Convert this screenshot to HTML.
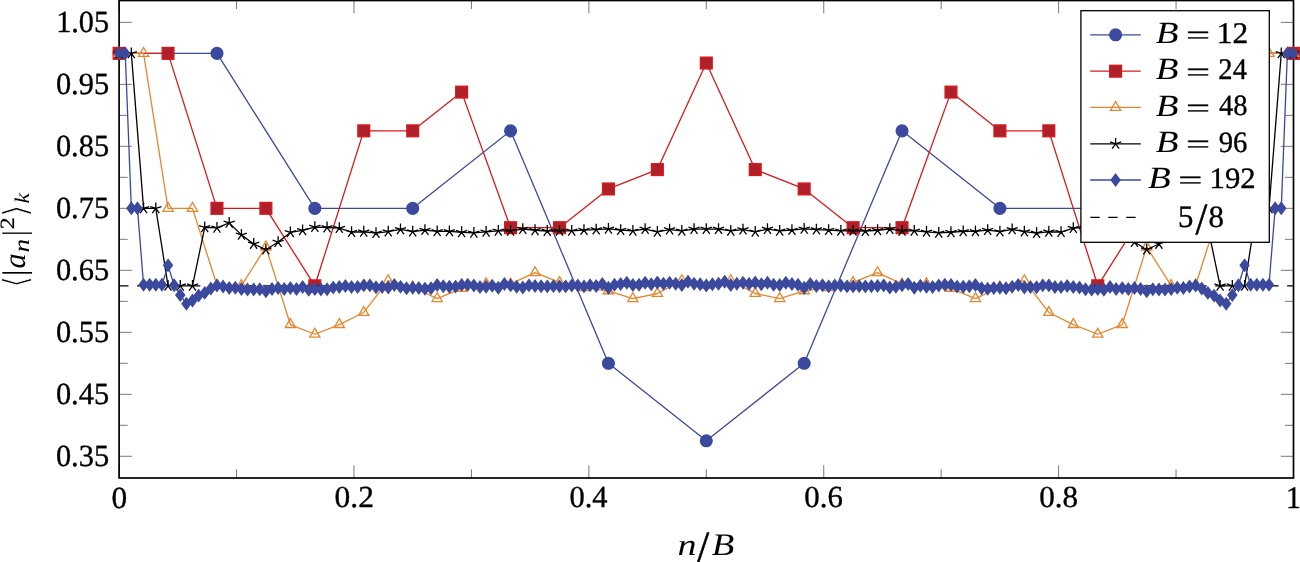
<!DOCTYPE html><html><head><meta charset="utf-8"><title>plot</title><style>
html,body{margin:0;padding:0;background:#fff;width:1300px;height:562px;overflow:hidden}
svg{display:block}
text{font-family:"Liberation Serif","DejaVu Serif",serif;fill:#000;stroke:#000;stroke-width:0.35px;text-rendering:geometricPrecision}
.it{font-style:italic}
.ns{stroke-width:0}
text.thin{stroke:#fff;stroke-width:0.9px}
</style></head><body>
<svg width="1300" height="562" viewBox="0 0 1300 562">
<g stroke="#6a6a6a" stroke-width="0.9"><line x1="119.10" y1="478.0" x2="119.10" y2="465.3"/><line x1="119.10" y1="0.5" x2="119.10" y2="13.2"/><line x1="236.54" y1="478.0" x2="236.54" y2="469.4"/><line x1="236.54" y1="0.5" x2="236.54" y2="9.1"/><line x1="353.98" y1="478.0" x2="353.98" y2="465.3"/><line x1="353.98" y1="0.5" x2="353.98" y2="13.2"/><line x1="471.42" y1="478.0" x2="471.42" y2="469.4"/><line x1="471.42" y1="0.5" x2="471.42" y2="9.1"/><line x1="588.86" y1="478.0" x2="588.86" y2="465.3"/><line x1="588.86" y1="0.5" x2="588.86" y2="13.2"/><line x1="706.30" y1="478.0" x2="706.30" y2="469.4"/><line x1="706.30" y1="0.5" x2="706.30" y2="9.1"/><line x1="823.74" y1="478.0" x2="823.74" y2="465.3"/><line x1="823.74" y1="0.5" x2="823.74" y2="13.2"/><line x1="941.18" y1="478.0" x2="941.18" y2="469.4"/><line x1="941.18" y1="0.5" x2="941.18" y2="9.1"/><line x1="1058.62" y1="478.0" x2="1058.62" y2="465.3"/><line x1="1058.62" y1="0.5" x2="1058.62" y2="13.2"/><line x1="1176.06" y1="478.0" x2="1176.06" y2="469.4"/><line x1="1176.06" y1="0.5" x2="1176.06" y2="9.1"/><line x1="1293.50" y1="478.0" x2="1293.50" y2="465.3"/><line x1="1293.50" y1="0.5" x2="1293.50" y2="13.2"/><line x1="119.1" y1="456.29" x2="131.79999999999998" y2="456.29"/><line x1="1293.5" y1="456.29" x2="1280.8" y2="456.29"/><line x1="119.1" y1="425.30" x2="127.69999999999999" y2="425.30"/><line x1="1293.5" y1="425.30" x2="1284.9" y2="425.30"/><line x1="119.1" y1="394.30" x2="131.79999999999998" y2="394.30"/><line x1="1293.5" y1="394.30" x2="1280.8" y2="394.30"/><line x1="119.1" y1="363.31" x2="127.69999999999999" y2="363.31"/><line x1="1293.5" y1="363.31" x2="1284.9" y2="363.31"/><line x1="119.1" y1="332.31" x2="131.79999999999998" y2="332.31"/><line x1="1293.5" y1="332.31" x2="1280.8" y2="332.31"/><line x1="119.1" y1="301.32" x2="127.69999999999999" y2="301.32"/><line x1="1293.5" y1="301.32" x2="1284.9" y2="301.32"/><line x1="119.1" y1="270.32" x2="131.79999999999998" y2="270.32"/><line x1="1293.5" y1="270.32" x2="1280.8" y2="270.32"/><line x1="119.1" y1="239.33" x2="127.69999999999999" y2="239.33"/><line x1="1293.5" y1="239.33" x2="1284.9" y2="239.33"/><line x1="119.1" y1="208.33" x2="131.79999999999998" y2="208.33"/><line x1="1293.5" y1="208.33" x2="1280.8" y2="208.33"/><line x1="119.1" y1="177.33" x2="127.69999999999999" y2="177.33"/><line x1="1293.5" y1="177.33" x2="1284.9" y2="177.33"/><line x1="119.1" y1="146.34" x2="131.79999999999998" y2="146.34"/><line x1="1293.5" y1="146.34" x2="1280.8" y2="146.34"/><line x1="119.1" y1="115.35" x2="127.69999999999999" y2="115.35"/><line x1="1293.5" y1="115.35" x2="1284.9" y2="115.35"/><line x1="119.1" y1="84.35" x2="131.79999999999998" y2="84.35"/><line x1="1293.5" y1="84.35" x2="1280.8" y2="84.35"/><line x1="119.1" y1="53.36" x2="127.69999999999999" y2="53.36"/><line x1="1293.5" y1="53.36" x2="1284.9" y2="53.36"/><line x1="119.1" y1="22.36" x2="131.79999999999998" y2="22.36"/><line x1="1293.5" y1="22.36" x2="1280.8" y2="22.36"/></g>
<rect x="119.1" y="0.5" width="1174.40" height="477.50" fill="none" stroke="#000" stroke-width="1.7"/>
<text transform="matrix(1.0132,0,0,1.0257,55.89,466.15)" font-size="30" fill="#000"><tspan font-family='"Liberation Serif", serif' font-style="normal">0.35</tspan></text><text transform="matrix(1.0132,0,0,1.0257,55.89,404.16)" font-size="30" fill="#000"><tspan font-family='"Liberation Serif", serif' font-style="normal">0.45</tspan></text><text transform="matrix(1.0132,0,0,1.0257,55.89,342.17)" font-size="30" fill="#000"><tspan font-family='"Liberation Serif", serif' font-style="normal">0.55</tspan></text><text transform="matrix(1.0132,0,0,1.0257,55.89,280.18)" font-size="30" fill="#000"><tspan font-family='"Liberation Serif", serif' font-style="normal">0.65</tspan></text><text transform="matrix(1.0132,0,0,1.0257,55.89,218.19)" font-size="30" fill="#000"><tspan font-family='"Liberation Serif", serif' font-style="normal">0.75</tspan></text><text transform="matrix(1.0132,0,0,1.0257,55.89,156.20)" font-size="30" fill="#000"><tspan font-family='"Liberation Serif", serif' font-style="normal">0.85</tspan></text><text transform="matrix(1.0132,0,0,1.0257,55.89,94.21)" font-size="30" fill="#000"><tspan font-family='"Liberation Serif", serif' font-style="normal">0.95</tspan></text><text transform="matrix(1.0084,0,0,1.0257,56.14,32.22)" font-size="30" fill="#000"><tspan font-family='"Liberation Serif", serif' font-style="normal">1.05</tspan></text><text transform="matrix(1.0460,0,0,1.0275,111.50,507.60)" font-size="30" fill="#000"><tspan font-family='"Liberation Serif", serif' font-style="normal">0</tspan></text><text transform="matrix(1.0489,0,0,1.0208,334.58,507.47)" font-size="30" fill="#000"><tspan font-family='"Liberation Serif", serif' font-style="normal">0.2</tspan></text><text transform="matrix(1.0142,0,0,1.0208,569.50,507.47)" font-size="30" fill="#000"><tspan font-family='"Liberation Serif", serif' font-style="normal">0.4</tspan></text><text transform="matrix(1.0264,0,0,1.0208,804.37,507.47)" font-size="30" fill="#000"><tspan font-family='"Liberation Serif", serif' font-style="normal">0.6</tspan></text><text transform="matrix(1.0337,0,0,1.0208,1039.24,507.47)" font-size="30" fill="#000"><tspan font-family='"Liberation Serif", serif' font-style="normal">0.8</tspan></text><text transform="matrix(0.9942,0,0,1.0503,1285.88,507.90)" font-size="30" fill="#000"><tspan font-family='"Liberation Serif", serif' font-style="normal">1</tspan></text>
<text transform="matrix(1.2692,0,0,1.0045,677.54,555.00)" font-size="30" fill="#000"><tspan font-family='"Liberation Serif", serif' font-style="italic" class="ns">n</tspan></text>
<text transform="matrix(1.4637,0,0,1.4949,697.00,561.76)" font-size="30" fill="#000"><tspan font-family='"Liberation Serif", serif' font-style="normal">/</tspan></text>
<text transform="matrix(1.2308,0,0,1.0491,711.76,554.71)" font-size="30" fill="#000"><tspan font-family='"Liberation Serif", serif' font-style="italic" class="ns">B</tspan></text>
<g transform="rotate(-90)"><text transform="matrix(1.0119,0,0,1.1153,-287.71,27.29)" font-size="30" fill="#000" class="thin"><tspan font-family='"DejaVu Serif", serif' font-style="normal">⟨</tspan></text><text transform="matrix(1.1378,0,0,1.0920,-276.27,24.63)" font-size="30" fill="#000"><tspan font-family='"Liberation Serif", serif' font-style="normal" class="ns">|</tspan></text><text transform="matrix(1.0017,0,0,1.0327,-268.60,25.18)" font-size="30" fill="#000"><tspan font-family='"Liberation Serif", serif' font-style="italic" class="ns">a</tspan></text><text transform="matrix(0.9144,0,0,0.7428,-252.38,28.80)" font-size="30" fill="#000"><tspan font-family='"Liberation Serif", serif' font-style="italic" class="ns">n</tspan></text><text transform="matrix(0.9370,0,0,1.0920,-236.11,24.63)" font-size="30" fill="#000"><tspan font-family='"Liberation Serif", serif' font-style="normal" class="ns">|</tspan></text><text transform="matrix(0.7982,0,0,0.6746,-229.35,14.40)" font-size="30" fill="#000"><tspan font-family='"Liberation Serif", serif' font-style="normal">2</tspan></text><text transform="matrix(1.0874,0,0,1.1153,-216.91,27.29)" font-size="30" fill="#000" class="thin"><tspan font-family='"DejaVu Serif", serif' font-style="normal">⟩</tspan></text><text transform="matrix(0.7835,0,0,0.6918,-203.48,28.80)" font-size="30" fill="#000"><tspan font-family='"Liberation Serif", serif' font-style="italic" class="ns">k</tspan></text></g>
<svg x="0" y="0" width="1300" height="562" overflow="visible">
<polyline points="119.10,53.36 216.97,53.36 314.83,208.33 412.70,208.33 510.57,130.84 608.43,363.31 706.30,440.79 804.17,363.31 902.03,130.84 999.90,208.33 1097.77,208.33 1195.63,53.36 1293.50,53.36" fill="none" stroke="#3b499e" stroke-width="1.3" stroke-linejoin="round"/><g fill="#3b499e" stroke="#3b499e" stroke-width="1.3"><circle cx="119.10" cy="53.36" r="5.9"/><circle cx="216.97" cy="53.36" r="5.9"/><circle cx="314.83" cy="208.33" r="5.9"/><circle cx="412.70" cy="208.33" r="5.9"/><circle cx="510.57" cy="130.84" r="5.9"/><circle cx="608.43" cy="363.31" r="5.9"/><circle cx="706.30" cy="440.79" r="5.9"/><circle cx="804.17" cy="363.31" r="5.9"/><circle cx="902.03" cy="130.84" r="5.9"/><circle cx="999.90" cy="208.33" r="5.9"/><circle cx="1097.77" cy="208.33" r="5.9"/><circle cx="1195.63" cy="53.36" r="5.9"/><circle cx="1293.50" cy="53.36" r="5.9"/></g>
<polyline points="119.10,53.36 168.03,53.36 216.97,208.33 265.90,208.33 314.83,285.82 363.77,130.84 412.70,130.84 461.63,92.10 510.57,227.70 559.50,227.70 608.43,188.96 657.37,169.59 706.30,63.04 755.23,169.59 804.17,188.96 853.10,227.70 902.03,227.70 950.97,92.10 999.90,130.84 1048.83,130.84 1097.77,285.82 1146.70,208.33 1195.63,208.33 1244.57,53.36 1293.50,53.36" fill="none" stroke="#d7191c" stroke-width="1.3" stroke-linejoin="round"/><g fill="#b0202a" stroke="#d7191c" stroke-width="1.3"><rect x="113.20" y="47.46" width="11.8" height="11.8"/><rect x="162.13" y="47.46" width="11.8" height="11.8"/><rect x="211.07" y="202.43" width="11.8" height="11.8"/><rect x="260.00" y="202.43" width="11.8" height="11.8"/><rect x="308.93" y="279.92" width="11.8" height="11.8"/><rect x="357.87" y="124.94" width="11.8" height="11.8"/><rect x="406.80" y="124.94" width="11.8" height="11.8"/><rect x="455.73" y="86.20" width="11.8" height="11.8"/><rect x="504.67" y="221.80" width="11.8" height="11.8"/><rect x="553.60" y="221.80" width="11.8" height="11.8"/><rect x="602.53" y="183.06" width="11.8" height="11.8"/><rect x="651.47" y="163.69" width="11.8" height="11.8"/><rect x="700.40" y="57.14" width="11.8" height="11.8"/><rect x="749.33" y="163.69" width="11.8" height="11.8"/><rect x="798.27" y="183.06" width="11.8" height="11.8"/><rect x="847.20" y="221.80" width="11.8" height="11.8"/><rect x="896.13" y="221.80" width="11.8" height="11.8"/><rect x="945.07" y="86.20" width="11.8" height="11.8"/><rect x="994.00" y="124.94" width="11.8" height="11.8"/><rect x="1042.93" y="124.94" width="11.8" height="11.8"/><rect x="1091.87" y="279.92" width="11.8" height="11.8"/><rect x="1140.80" y="202.43" width="11.8" height="11.8"/><rect x="1189.73" y="202.43" width="11.8" height="11.8"/><rect x="1238.67" y="47.46" width="11.8" height="11.8"/><rect x="1287.60" y="47.46" width="11.8" height="11.8"/></g>
<polyline points="119.10,53.36 143.57,53.36 168.03,208.33 192.50,208.33 216.97,285.20 241.43,285.57 265.90,247.07 290.37,324.56 314.83,334.25 339.30,324.56 363.77,312.47 388.23,280.67 412.70,287.00 437.17,298.59 461.63,288.30 486.10,283.71 510.57,283.96 535.03,272.61 559.50,282.47 583.97,287.68 608.43,290.78 632.90,298.59 657.37,293.50 681.83,280.67 706.30,285.38 730.77,280.67 755.23,293.50 779.70,298.59 804.17,290.78 828.63,287.68 853.10,282.47 877.57,272.61 902.03,283.96 926.50,283.71 950.97,288.30 975.43,298.59 999.90,287.00 1024.37,280.67 1048.83,312.47 1073.30,324.56 1097.77,334.25 1122.23,324.56 1146.70,247.07 1171.17,285.57 1195.63,285.20 1220.10,208.33 1244.57,208.33 1269.03,53.36 1293.50,53.36" fill="none" stroke="#e6862c" stroke-width="1.3" stroke-linejoin="round"/><g fill="none" stroke="#e6862c" stroke-width="1.3"><path d="M119.10,47.46L124.21,56.31L113.99,56.31Z"/><path d="M143.57,47.46L148.68,56.31L138.46,56.31Z"/><path d="M168.03,202.43L173.14,211.28L162.92,211.28Z"/><path d="M192.50,202.43L197.61,211.28L187.39,211.28Z"/><path d="M216.97,279.30L222.08,288.15L211.86,288.15Z"/><path d="M241.43,279.67L246.54,288.52L236.32,288.52Z"/><path d="M265.90,241.17L271.01,250.02L260.79,250.02Z"/><path d="M290.37,318.66L295.48,327.51L285.26,327.51Z"/><path d="M314.83,328.35L319.94,337.20L309.72,337.20Z"/><path d="M339.30,318.66L344.41,327.51L334.19,327.51Z"/><path d="M363.77,306.57L368.88,315.42L358.66,315.42Z"/><path d="M388.23,274.77L393.34,283.62L383.12,283.62Z"/><path d="M412.70,281.10L417.81,289.95L407.59,289.95Z"/><path d="M437.17,292.69L442.28,301.54L432.06,301.54Z"/><path d="M461.63,282.40L466.74,291.25L456.52,291.25Z"/><path d="M486.10,277.81L491.21,286.66L480.99,286.66Z"/><path d="M510.57,278.06L515.68,286.91L505.46,286.91Z"/><path d="M535.03,266.71L540.14,275.56L529.92,275.56Z"/><path d="M559.50,276.57L564.61,285.42L554.39,285.42Z"/><path d="M583.97,281.78L589.08,290.63L578.86,290.63Z"/><path d="M608.43,284.88L613.54,293.73L603.32,293.73Z"/><path d="M632.90,292.69L638.01,301.54L627.79,301.54Z"/><path d="M657.37,287.60L662.48,296.45L652.26,296.45Z"/><path d="M681.83,274.77L686.94,283.62L676.72,283.62Z"/><path d="M706.30,279.48L711.41,288.33L701.19,288.33Z"/><path d="M730.77,274.77L735.88,283.62L725.66,283.62Z"/><path d="M755.23,287.60L760.34,296.45L750.12,296.45Z"/><path d="M779.70,292.69L784.81,301.54L774.59,301.54Z"/><path d="M804.17,284.88L809.28,293.73L799.06,293.73Z"/><path d="M828.63,281.78L833.74,290.63L823.52,290.63Z"/><path d="M853.10,276.57L858.21,285.42L847.99,285.42Z"/><path d="M877.57,266.71L882.68,275.56L872.46,275.56Z"/><path d="M902.03,278.06L907.14,286.91L896.92,286.91Z"/><path d="M926.50,277.81L931.61,286.66L921.39,286.66Z"/><path d="M950.97,282.40L956.08,291.25L945.86,291.25Z"/><path d="M975.43,292.69L980.54,301.54L970.32,301.54Z"/><path d="M999.90,281.10L1005.01,289.95L994.79,289.95Z"/><path d="M1024.37,274.77L1029.48,283.62L1019.26,283.62Z"/><path d="M1048.83,306.57L1053.94,315.42L1043.72,315.42Z"/><path d="M1073.30,318.66L1078.41,327.51L1068.19,327.51Z"/><path d="M1097.77,328.35L1102.88,337.20L1092.66,337.20Z"/><path d="M1122.23,318.66L1127.34,327.51L1117.12,327.51Z"/><path d="M1146.70,241.17L1151.81,250.02L1141.59,250.02Z"/><path d="M1171.17,279.67L1176.28,288.52L1166.06,288.52Z"/><path d="M1195.63,279.30L1200.74,288.15L1190.52,288.15Z"/><path d="M1220.10,202.43L1225.21,211.28L1214.99,211.28Z"/><path d="M1244.57,202.43L1249.68,211.28L1239.46,211.28Z"/><path d="M1269.03,47.46L1274.14,56.31L1263.92,56.31Z"/><path d="M1293.50,47.46L1298.61,56.31L1288.39,56.31Z"/></g>
<polyline points="119.10,53.36 131.33,53.36 143.57,208.33 155.80,208.33 168.03,285.82 180.27,285.82 192.50,285.82 204.73,227.36 216.97,227.86 229.20,222.96 241.43,234.86 253.67,243.97 265.90,249.68 278.13,242.05 290.37,232.44 302.60,230.40 314.83,227.05 327.07,227.48 339.30,228.17 351.53,232.20 363.77,231.76 376.00,233.06 388.23,231.64 400.47,229.41 412.70,231.64 424.93,230.15 437.17,231.45 449.40,231.45 461.63,232.26 473.87,232.94 486.10,231.89 498.33,230.96 510.57,230.83 522.80,229.16 535.03,230.27 547.27,231.02 559.50,230.83 571.73,230.83 583.97,230.15 596.20,229.53 608.43,228.85 620.67,230.15 632.90,230.83 645.13,229.03 657.37,231.89 669.60,229.53 681.83,230.83 694.07,229.03 706.30,229.03 718.53,229.03 730.77,230.83 743.00,229.53 755.23,231.89 767.47,229.03 779.70,230.83 791.93,230.15 804.17,228.85 816.40,229.53 828.63,230.15 840.87,230.83 853.10,230.83 865.33,231.02 877.57,230.27 889.80,229.16 902.03,230.83 914.27,230.96 926.50,231.89 938.73,232.94 950.97,232.26 963.20,231.45 975.43,231.45 987.67,230.15 999.90,231.64 1012.13,229.41 1024.37,231.64 1036.60,233.06 1048.83,231.76 1061.07,232.20 1073.30,228.17 1085.53,227.48 1097.77,227.05 1110.00,230.40 1122.23,232.44 1134.47,242.05 1146.70,249.68 1158.93,243.97 1171.17,234.86 1183.40,222.96 1195.63,227.86 1207.87,227.36 1220.10,285.82 1232.33,285.82 1244.57,285.82 1256.80,208.33 1269.03,208.33 1281.27,53.36 1293.50,53.36" fill="none" stroke="#000" stroke-width="1.3" stroke-linejoin="round"/><g fill="none" stroke="#000" stroke-width="1.3"><path d="M119.10,53.36L119.10,47.46M119.10,53.36L113.49,51.53M119.10,53.36L115.63,58.13M119.10,53.36L122.57,58.13M119.10,53.36L124.71,51.53"/><path d="M131.33,53.36L131.33,47.46M131.33,53.36L125.72,51.53M131.33,53.36L127.87,58.13M131.33,53.36L134.80,58.13M131.33,53.36L136.94,51.53"/><path d="M143.57,208.33L143.57,202.43M143.57,208.33L137.96,206.51M143.57,208.33L140.10,213.10M143.57,208.33L147.03,213.10M143.57,208.33L149.18,206.51"/><path d="M155.80,208.33L155.80,202.43M155.80,208.33L150.19,206.51M155.80,208.33L152.33,213.10M155.80,208.33L159.27,213.10M155.80,208.33L161.41,206.51"/><path d="M168.03,285.82L168.03,279.92M168.03,285.82L162.42,283.99M168.03,285.82L164.57,290.59M168.03,285.82L171.50,290.59M168.03,285.82L173.64,283.99"/><path d="M180.27,285.82L180.27,279.92M180.27,285.82L174.66,283.99M180.27,285.82L176.80,290.59M180.27,285.82L183.73,290.59M180.27,285.82L185.88,283.99"/><path d="M192.50,285.82L192.50,279.92M192.50,285.82L186.89,283.99M192.50,285.82L189.03,290.59M192.50,285.82L195.97,290.59M192.50,285.82L198.11,283.99"/><path d="M204.73,227.36L204.73,221.46M204.73,227.36L199.12,225.54M204.73,227.36L201.27,232.13M204.73,227.36L208.20,232.13M204.73,227.36L210.34,225.54"/><path d="M216.97,227.86L216.97,221.96M216.97,227.86L211.36,226.03M216.97,227.86L213.50,232.63M216.97,227.86L220.43,232.63M216.97,227.86L222.58,226.03"/><path d="M229.20,222.96L229.20,217.06M229.20,222.96L223.59,221.14M229.20,222.96L225.73,227.73M229.20,222.96L232.67,227.73M229.20,222.96L234.81,221.14"/><path d="M241.43,234.86L241.43,228.96M241.43,234.86L235.82,233.04M241.43,234.86L237.97,239.63M241.43,234.86L244.90,239.63M241.43,234.86L247.04,233.04"/><path d="M253.67,243.97L253.67,238.07M253.67,243.97L248.06,242.15M253.67,243.97L250.20,248.75M253.67,243.97L257.13,248.75M253.67,243.97L259.28,242.15"/><path d="M265.90,249.68L265.90,243.78M265.90,249.68L260.29,247.85M265.90,249.68L262.43,254.45M265.90,249.68L269.37,254.45M265.90,249.68L271.51,247.85"/><path d="M278.13,242.05L278.13,236.15M278.13,242.05L272.52,240.23M278.13,242.05L274.67,246.83M278.13,242.05L281.60,246.83M278.13,242.05L283.74,240.23"/><path d="M290.37,232.44L290.37,226.54M290.37,232.44L284.76,230.62M290.37,232.44L286.90,237.22M290.37,232.44L293.83,237.22M290.37,232.44L295.98,230.62"/><path d="M302.60,230.40L302.60,224.50M302.60,230.40L296.99,228.58M302.60,230.40L299.13,235.17M302.60,230.40L306.07,235.17M302.60,230.40L308.21,228.58"/><path d="M314.83,227.05L314.83,221.15M314.83,227.05L309.22,225.23M314.83,227.05L311.37,231.82M314.83,227.05L318.30,231.82M314.83,227.05L320.44,225.23"/><path d="M327.07,227.48L327.07,221.58M327.07,227.48L321.46,225.66M327.07,227.48L323.60,232.26M327.07,227.48L330.53,232.26M327.07,227.48L332.68,225.66"/><path d="M339.30,228.17L339.30,222.27M339.30,228.17L333.69,226.34M339.30,228.17L335.83,232.94M339.30,228.17L342.77,232.94M339.30,228.17L344.91,226.34"/><path d="M351.53,232.20L351.53,226.30M351.53,232.20L345.92,230.37M351.53,232.20L348.07,236.97M351.53,232.20L355.00,236.97M351.53,232.20L357.14,230.37"/><path d="M363.77,231.76L363.77,225.86M363.77,231.76L358.16,229.94M363.77,231.76L360.30,236.54M363.77,231.76L367.23,236.54M363.77,231.76L369.38,229.94"/><path d="M376.00,233.06L376.00,227.16M376.00,233.06L370.39,231.24M376.00,233.06L372.53,237.84M376.00,233.06L379.47,237.84M376.00,233.06L381.61,231.24"/><path d="M388.23,231.64L388.23,225.74M388.23,231.64L382.62,229.82M388.23,231.64L384.77,236.41M388.23,231.64L391.70,236.41M388.23,231.64L393.84,229.82"/><path d="M400.47,229.41L400.47,223.51M400.47,229.41L394.86,227.58M400.47,229.41L397.00,234.18M400.47,229.41L403.93,234.18M400.47,229.41L406.08,227.58"/><path d="M412.70,231.64L412.70,225.74M412.70,231.64L407.09,229.82M412.70,231.64L409.23,236.41M412.70,231.64L416.17,236.41M412.70,231.64L418.31,229.82"/><path d="M424.93,230.15L424.93,224.25M424.93,230.15L419.32,228.33M424.93,230.15L421.47,234.92M424.93,230.15L428.40,234.92M424.93,230.15L430.54,228.33"/><path d="M437.17,231.45L437.17,225.55M437.17,231.45L431.56,229.63M437.17,231.45L433.70,236.23M437.17,231.45L440.63,236.23M437.17,231.45L442.78,229.63"/><path d="M449.40,231.45L449.40,225.55M449.40,231.45L443.79,229.63M449.40,231.45L445.93,236.23M449.40,231.45L452.87,236.23M449.40,231.45L455.01,229.63"/><path d="M461.63,232.26L461.63,226.36M461.63,232.26L456.02,230.43M461.63,232.26L458.17,237.03M461.63,232.26L465.10,237.03M461.63,232.26L467.24,230.43"/><path d="M473.87,232.94L473.87,227.04M473.87,232.94L468.26,231.12M473.87,232.94L470.40,237.71M473.87,232.94L477.33,237.71M473.87,232.94L479.48,231.12"/><path d="M486.10,231.89L486.10,225.99M486.10,231.89L480.49,230.06M486.10,231.89L482.63,236.66M486.10,231.89L489.57,236.66M486.10,231.89L491.71,230.06"/><path d="M498.33,230.96L498.33,225.06M498.33,230.96L492.72,229.13M498.33,230.96L494.87,235.73M498.33,230.96L501.80,235.73M498.33,230.96L503.94,229.13"/><path d="M510.57,230.83L510.57,224.93M510.57,230.83L504.96,229.01M510.57,230.83L507.10,235.61M510.57,230.83L514.03,235.61M510.57,230.83L516.18,229.01"/><path d="M522.80,229.16L522.80,223.26M522.80,229.16L517.19,227.34M522.80,229.16L519.33,233.93M522.80,229.16L526.27,233.93M522.80,229.16L528.41,227.34"/><path d="M535.03,230.27L535.03,224.37M535.03,230.27L529.42,228.45M535.03,230.27L531.57,235.05M535.03,230.27L538.50,235.05M535.03,230.27L540.64,228.45"/><path d="M547.27,231.02L547.27,225.12M547.27,231.02L541.66,229.20M547.27,231.02L543.80,235.79M547.27,231.02L550.73,235.79M547.27,231.02L552.88,229.20"/><path d="M559.50,230.83L559.50,224.93M559.50,230.83L553.89,229.01M559.50,230.83L556.03,235.61M559.50,230.83L562.97,235.61M559.50,230.83L565.11,229.01"/><path d="M571.73,230.83L571.73,224.93M571.73,230.83L566.12,229.01M571.73,230.83L568.27,235.61M571.73,230.83L575.20,235.61M571.73,230.83L577.34,229.01"/><path d="M583.97,230.15L583.97,224.25M583.97,230.15L578.36,228.33M583.97,230.15L580.50,234.92M583.97,230.15L587.43,234.92M583.97,230.15L589.58,228.33"/><path d="M596.20,229.53L596.20,223.63M596.20,229.53L590.59,227.71M596.20,229.53L592.73,234.30M596.20,229.53L599.67,234.30M596.20,229.53L601.81,227.71"/><path d="M608.43,228.85L608.43,222.95M608.43,228.85L602.82,227.03M608.43,228.85L604.97,233.62M608.43,228.85L611.90,233.62M608.43,228.85L614.04,227.03"/><path d="M620.67,230.15L620.67,224.25M620.67,230.15L615.06,228.33M620.67,230.15L617.20,234.92M620.67,230.15L624.13,234.92M620.67,230.15L626.28,228.33"/><path d="M632.90,230.83L632.90,224.93M632.90,230.83L627.29,229.01M632.90,230.83L629.43,235.61M632.90,230.83L636.37,235.61M632.90,230.83L638.51,229.01"/><path d="M645.13,229.03L645.13,223.13M645.13,229.03L639.52,227.21M645.13,229.03L641.67,233.81M645.13,229.03L648.60,233.81M645.13,229.03L650.74,227.21"/><path d="M657.37,231.89L657.37,225.99M657.37,231.89L651.76,230.06M657.37,231.89L653.90,236.66M657.37,231.89L660.83,236.66M657.37,231.89L662.98,230.06"/><path d="M669.60,229.53L669.60,223.63M669.60,229.53L663.99,227.71M669.60,229.53L666.13,234.30M669.60,229.53L673.07,234.30M669.60,229.53L675.21,227.71"/><path d="M681.83,230.83L681.83,224.93M681.83,230.83L676.22,229.01M681.83,230.83L678.37,235.61M681.83,230.83L685.30,235.61M681.83,230.83L687.44,229.01"/><path d="M694.07,229.03L694.07,223.13M694.07,229.03L688.46,227.21M694.07,229.03L690.60,233.81M694.07,229.03L697.53,233.81M694.07,229.03L699.68,227.21"/><path d="M706.30,229.03L706.30,223.13M706.30,229.03L700.69,227.21M706.30,229.03L702.83,233.81M706.30,229.03L709.77,233.81M706.30,229.03L711.91,227.21"/><path d="M718.53,229.03L718.53,223.13M718.53,229.03L712.92,227.21M718.53,229.03L715.07,233.81M718.53,229.03L722.00,233.81M718.53,229.03L724.14,227.21"/><path d="M730.77,230.83L730.77,224.93M730.77,230.83L725.16,229.01M730.77,230.83L727.30,235.61M730.77,230.83L734.23,235.61M730.77,230.83L736.38,229.01"/><path d="M743.00,229.53L743.00,223.63M743.00,229.53L737.39,227.71M743.00,229.53L739.53,234.30M743.00,229.53L746.47,234.30M743.00,229.53L748.61,227.71"/><path d="M755.23,231.89L755.23,225.99M755.23,231.89L749.62,230.06M755.23,231.89L751.77,236.66M755.23,231.89L758.70,236.66M755.23,231.89L760.84,230.06"/><path d="M767.47,229.03L767.47,223.13M767.47,229.03L761.86,227.21M767.47,229.03L764.00,233.81M767.47,229.03L770.93,233.81M767.47,229.03L773.08,227.21"/><path d="M779.70,230.83L779.70,224.93M779.70,230.83L774.09,229.01M779.70,230.83L776.23,235.61M779.70,230.83L783.17,235.61M779.70,230.83L785.31,229.01"/><path d="M791.93,230.15L791.93,224.25M791.93,230.15L786.32,228.33M791.93,230.15L788.47,234.92M791.93,230.15L795.40,234.92M791.93,230.15L797.54,228.33"/><path d="M804.17,228.85L804.17,222.95M804.17,228.85L798.56,227.03M804.17,228.85L800.70,233.62M804.17,228.85L807.63,233.62M804.17,228.85L809.78,227.03"/><path d="M816.40,229.53L816.40,223.63M816.40,229.53L810.79,227.71M816.40,229.53L812.93,234.30M816.40,229.53L819.87,234.30M816.40,229.53L822.01,227.71"/><path d="M828.63,230.15L828.63,224.25M828.63,230.15L823.02,228.33M828.63,230.15L825.17,234.92M828.63,230.15L832.10,234.92M828.63,230.15L834.24,228.33"/><path d="M840.87,230.83L840.87,224.93M840.87,230.83L835.26,229.01M840.87,230.83L837.40,235.61M840.87,230.83L844.33,235.61M840.87,230.83L846.48,229.01"/><path d="M853.10,230.83L853.10,224.93M853.10,230.83L847.49,229.01M853.10,230.83L849.63,235.61M853.10,230.83L856.57,235.61M853.10,230.83L858.71,229.01"/><path d="M865.33,231.02L865.33,225.12M865.33,231.02L859.72,229.20M865.33,231.02L861.87,235.79M865.33,231.02L868.80,235.79M865.33,231.02L870.94,229.20"/><path d="M877.57,230.27L877.57,224.37M877.57,230.27L871.96,228.45M877.57,230.27L874.10,235.05M877.57,230.27L881.03,235.05M877.57,230.27L883.18,228.45"/><path d="M889.80,229.16L889.80,223.26M889.80,229.16L884.19,227.34M889.80,229.16L886.33,233.93M889.80,229.16L893.27,233.93M889.80,229.16L895.41,227.34"/><path d="M902.03,230.83L902.03,224.93M902.03,230.83L896.42,229.01M902.03,230.83L898.57,235.61M902.03,230.83L905.50,235.61M902.03,230.83L907.64,229.01"/><path d="M914.27,230.96L914.27,225.06M914.27,230.96L908.66,229.13M914.27,230.96L910.80,235.73M914.27,230.96L917.73,235.73M914.27,230.96L919.88,229.13"/><path d="M926.50,231.89L926.50,225.99M926.50,231.89L920.89,230.06M926.50,231.89L923.03,236.66M926.50,231.89L929.97,236.66M926.50,231.89L932.11,230.06"/><path d="M938.73,232.94L938.73,227.04M938.73,232.94L933.12,231.12M938.73,232.94L935.27,237.71M938.73,232.94L942.20,237.71M938.73,232.94L944.34,231.12"/><path d="M950.97,232.26L950.97,226.36M950.97,232.26L945.36,230.43M950.97,232.26L947.50,237.03M950.97,232.26L954.43,237.03M950.97,232.26L956.58,230.43"/><path d="M963.20,231.45L963.20,225.55M963.20,231.45L957.59,229.63M963.20,231.45L959.73,236.23M963.20,231.45L966.67,236.23M963.20,231.45L968.81,229.63"/><path d="M975.43,231.45L975.43,225.55M975.43,231.45L969.82,229.63M975.43,231.45L971.97,236.23M975.43,231.45L978.90,236.23M975.43,231.45L981.04,229.63"/><path d="M987.67,230.15L987.67,224.25M987.67,230.15L982.06,228.33M987.67,230.15L984.20,234.92M987.67,230.15L991.13,234.92M987.67,230.15L993.28,228.33"/><path d="M999.90,231.64L999.90,225.74M999.90,231.64L994.29,229.82M999.90,231.64L996.43,236.41M999.90,231.64L1003.37,236.41M999.90,231.64L1005.51,229.82"/><path d="M1012.13,229.41L1012.13,223.51M1012.13,229.41L1006.52,227.58M1012.13,229.41L1008.67,234.18M1012.13,229.41L1015.60,234.18M1012.13,229.41L1017.74,227.58"/><path d="M1024.37,231.64L1024.37,225.74M1024.37,231.64L1018.76,229.82M1024.37,231.64L1020.90,236.41M1024.37,231.64L1027.83,236.41M1024.37,231.64L1029.98,229.82"/><path d="M1036.60,233.06L1036.60,227.16M1036.60,233.06L1030.99,231.24M1036.60,233.06L1033.13,237.84M1036.60,233.06L1040.07,237.84M1036.60,233.06L1042.21,231.24"/><path d="M1048.83,231.76L1048.83,225.86M1048.83,231.76L1043.22,229.94M1048.83,231.76L1045.37,236.54M1048.83,231.76L1052.30,236.54M1048.83,231.76L1054.44,229.94"/><path d="M1061.07,232.20L1061.07,226.30M1061.07,232.20L1055.46,230.37M1061.07,232.20L1057.60,236.97M1061.07,232.20L1064.53,236.97M1061.07,232.20L1066.68,230.37"/><path d="M1073.30,228.17L1073.30,222.27M1073.30,228.17L1067.69,226.34M1073.30,228.17L1069.83,232.94M1073.30,228.17L1076.77,232.94M1073.30,228.17L1078.91,226.34"/><path d="M1085.53,227.48L1085.53,221.58M1085.53,227.48L1079.92,225.66M1085.53,227.48L1082.07,232.26M1085.53,227.48L1089.00,232.26M1085.53,227.48L1091.14,225.66"/><path d="M1097.77,227.05L1097.77,221.15M1097.77,227.05L1092.16,225.23M1097.77,227.05L1094.30,231.82M1097.77,227.05L1101.23,231.82M1097.77,227.05L1103.38,225.23"/><path d="M1110.00,230.40L1110.00,224.50M1110.00,230.40L1104.39,228.58M1110.00,230.40L1106.53,235.17M1110.00,230.40L1113.47,235.17M1110.00,230.40L1115.61,228.58"/><path d="M1122.23,232.44L1122.23,226.54M1122.23,232.44L1116.62,230.62M1122.23,232.44L1118.77,237.22M1122.23,232.44L1125.70,237.22M1122.23,232.44L1127.84,230.62"/><path d="M1134.47,242.05L1134.47,236.15M1134.47,242.05L1128.86,240.23M1134.47,242.05L1131.00,246.83M1134.47,242.05L1137.93,246.83M1134.47,242.05L1140.08,240.23"/><path d="M1146.70,249.68L1146.70,243.78M1146.70,249.68L1141.09,247.85M1146.70,249.68L1143.23,254.45M1146.70,249.68L1150.17,254.45M1146.70,249.68L1152.31,247.85"/><path d="M1158.93,243.97L1158.93,238.07M1158.93,243.97L1153.32,242.15M1158.93,243.97L1155.47,248.75M1158.93,243.97L1162.40,248.75M1158.93,243.97L1164.54,242.15"/><path d="M1171.17,234.86L1171.17,228.96M1171.17,234.86L1165.56,233.04M1171.17,234.86L1167.70,239.63M1171.17,234.86L1174.63,239.63M1171.17,234.86L1176.78,233.04"/><path d="M1183.40,222.96L1183.40,217.06M1183.40,222.96L1177.79,221.14M1183.40,222.96L1179.93,227.73M1183.40,222.96L1186.87,227.73M1183.40,222.96L1189.01,221.14"/><path d="M1195.63,227.86L1195.63,221.96M1195.63,227.86L1190.02,226.03M1195.63,227.86L1192.17,232.63M1195.63,227.86L1199.10,232.63M1195.63,227.86L1201.24,226.03"/><path d="M1207.87,227.36L1207.87,221.46M1207.87,227.36L1202.26,225.54M1207.87,227.36L1204.40,232.13M1207.87,227.36L1211.33,232.13M1207.87,227.36L1213.48,225.54"/><path d="M1220.10,285.82L1220.10,279.92M1220.10,285.82L1214.49,283.99M1220.10,285.82L1216.63,290.59M1220.10,285.82L1223.57,290.59M1220.10,285.82L1225.71,283.99"/><path d="M1232.33,285.82L1232.33,279.92M1232.33,285.82L1226.72,283.99M1232.33,285.82L1228.87,290.59M1232.33,285.82L1235.80,290.59M1232.33,285.82L1237.94,283.99"/><path d="M1244.57,285.82L1244.57,279.92M1244.57,285.82L1238.96,283.99M1244.57,285.82L1241.10,290.59M1244.57,285.82L1248.03,290.59M1244.57,285.82L1250.18,283.99"/><path d="M1256.80,208.33L1256.80,202.43M1256.80,208.33L1251.19,206.51M1256.80,208.33L1253.33,213.10M1256.80,208.33L1260.27,213.10M1256.80,208.33L1262.41,206.51"/><path d="M1269.03,208.33L1269.03,202.43M1269.03,208.33L1263.42,206.51M1269.03,208.33L1265.57,213.10M1269.03,208.33L1272.50,213.10M1269.03,208.33L1274.64,206.51"/><path d="M1281.27,53.36L1281.27,47.46M1281.27,53.36L1275.66,51.53M1281.27,53.36L1277.80,58.13M1281.27,53.36L1284.73,58.13M1281.27,53.36L1286.88,51.53"/><path d="M1293.50,53.36L1293.50,47.46M1293.50,53.36L1287.89,51.53M1293.50,53.36L1290.03,58.13M1293.50,53.36L1296.97,58.13M1293.50,53.36L1299.11,51.53"/></g>
<line x1="119.1" y1="285.82" x2="1293.5" y2="285.82" stroke="#000" stroke-width="1.3" stroke-dasharray="9.4 8.57"/>
<polyline points="119.10,53.36 125.22,53.36 131.33,208.33 137.45,208.33 143.57,284.83 149.68,284.83 155.80,284.83 161.92,284.83 168.03,265.36 174.15,285.20 180.27,295.12 186.38,303.67 192.50,300.57 198.62,295.61 204.73,292.88 210.85,288.42 216.97,285.51 223.08,286.44 229.20,287.93 235.32,287.80 241.43,288.92 247.55,289.54 253.67,289.41 259.78,289.35 265.90,291.27 272.02,288.98 278.13,287.99 284.25,288.92 290.37,288.11 296.48,288.92 302.60,286.93 308.72,289.66 314.83,288.98 320.95,289.41 327.07,289.29 333.18,287.62 339.30,286.93 345.42,286.00 351.53,286.93 357.65,286.93 363.77,285.38 369.88,285.38 376.00,287.18 382.12,286.93 388.23,287.55 394.35,284.95 400.47,286.87 406.58,288.24 412.70,287.80 418.82,287.99 424.93,288.67 431.05,288.30 437.17,284.95 443.28,286.19 449.40,286.69 455.52,286.62 461.63,284.89 467.75,284.83 473.87,285.57 479.98,287.06 486.10,286.81 492.22,285.76 498.33,287.80 504.45,283.96 510.57,285.38 516.68,286.69 522.80,287.55 528.92,285.38 535.03,285.94 541.15,286.19 547.27,286.38 553.38,286.13 559.50,286.38 565.62,286.38 571.73,285.57 577.85,285.57 583.97,286.38 590.08,285.20 596.20,286.00 602.32,283.96 608.43,287.68 614.55,284.76 620.67,283.96 626.78,282.78 632.90,285.01 639.02,284.70 645.13,282.78 651.25,284.21 657.37,282.47 663.48,283.77 669.60,282.78 675.72,283.77 681.83,285.01 687.95,281.66 694.07,283.77 700.18,284.27 706.30,285.57 712.42,284.27 718.53,283.77 724.65,281.66 730.77,285.01 736.88,283.77 743.00,282.78 749.12,283.77 755.23,282.47 761.35,284.21 767.47,282.78 773.58,284.70 779.70,285.01 785.82,282.78 791.93,283.96 798.05,284.76 804.17,287.68 810.28,283.96 816.40,286.00 822.52,285.20 828.63,286.38 834.75,285.57 840.87,285.57 846.98,286.38 853.10,286.38 859.22,286.13 865.33,286.38 871.45,286.19 877.57,285.94 883.68,285.38 889.80,287.55 895.92,286.69 902.03,285.38 908.15,283.96 914.27,287.80 920.38,285.76 926.50,286.81 932.62,287.06 938.73,285.57 944.85,284.83 950.97,284.89 957.08,286.62 963.20,286.69 969.32,286.19 975.43,284.95 981.55,288.30 987.67,288.67 993.78,287.99 999.90,287.80 1006.02,288.24 1012.13,286.87 1018.25,284.95 1024.37,287.55 1030.48,286.93 1036.60,287.18 1042.72,285.38 1048.83,285.38 1054.95,286.93 1061.07,286.93 1067.18,286.00 1073.30,286.93 1079.42,287.62 1085.53,289.29 1091.65,289.41 1097.77,288.98 1103.88,289.66 1110.00,286.93 1116.12,288.92 1122.23,288.11 1128.35,288.92 1134.47,287.99 1140.58,288.98 1146.70,291.27 1152.82,289.35 1158.93,289.41 1165.05,289.54 1171.17,288.92 1177.28,287.80 1183.40,287.93 1189.52,286.44 1195.63,285.51 1201.75,288.42 1207.87,292.88 1213.98,295.61 1220.10,300.57 1226.22,303.67 1232.33,295.12 1238.45,285.20 1244.57,265.36 1250.68,284.83 1256.80,284.83 1262.92,284.83 1269.03,284.83 1275.15,208.33 1281.27,208.33 1287.38,53.36 1293.50,53.36" fill="none" stroke="#3b499e" stroke-width="1.3" stroke-linejoin="round"/><g fill="#3b499e" stroke="#3b499e" stroke-width="1.3"><path d="M119.10,47.46L123.52,53.36L119.10,59.26L114.67,53.36Z"/><path d="M125.22,47.46L129.64,53.36L125.22,59.26L120.79,53.36Z"/><path d="M131.33,202.43L135.76,208.33L131.33,214.23L126.91,208.33Z"/><path d="M137.45,202.43L141.88,208.33L137.45,214.23L133.02,208.33Z"/><path d="M143.57,278.93L147.99,284.83L143.57,290.73L139.14,284.83Z"/><path d="M149.68,278.93L154.11,284.83L149.68,290.73L145.26,284.83Z"/><path d="M155.80,278.93L160.23,284.83L155.80,290.73L151.38,284.83Z"/><path d="M161.92,278.93L166.34,284.83L161.92,290.73L157.49,284.83Z"/><path d="M168.03,259.46L172.46,265.36L168.03,271.26L163.61,265.36Z"/><path d="M174.15,279.30L178.58,285.20L174.15,291.10L169.72,285.20Z"/><path d="M180.27,289.22L184.69,295.12L180.27,301.02L175.84,295.12Z"/><path d="M186.38,297.77L190.81,303.67L186.38,309.57L181.96,303.67Z"/><path d="M192.50,294.67L196.93,300.57L192.50,306.47L188.07,300.57Z"/><path d="M198.62,289.71L203.04,295.61L198.62,301.51L194.19,295.61Z"/><path d="M204.73,286.98L209.16,292.88L204.73,298.78L200.31,292.88Z"/><path d="M210.85,282.52L215.28,288.42L210.85,294.32L206.42,288.42Z"/><path d="M216.97,279.61L221.39,285.51L216.97,291.41L212.54,285.51Z"/><path d="M223.08,280.54L227.51,286.44L223.08,292.34L218.66,286.44Z"/><path d="M229.20,282.03L233.62,287.93L229.20,293.83L224.77,287.93Z"/><path d="M235.32,281.90L239.74,287.80L235.32,293.70L230.89,287.80Z"/><path d="M241.43,283.02L245.86,288.92L241.43,294.82L237.01,288.92Z"/><path d="M247.55,283.64L251.98,289.54L247.55,295.44L243.12,289.54Z"/><path d="M253.67,283.51L258.09,289.41L253.67,295.31L249.24,289.41Z"/><path d="M259.78,283.45L264.21,289.35L259.78,295.25L255.36,289.35Z"/><path d="M265.90,285.37L270.32,291.27L265.90,297.17L261.47,291.27Z"/><path d="M272.02,283.08L276.44,288.98L272.02,294.88L267.59,288.98Z"/><path d="M278.13,282.09L282.56,287.99L278.13,293.89L273.71,287.99Z"/><path d="M284.25,283.02L288.68,288.92L284.25,294.82L279.82,288.92Z"/><path d="M290.37,282.21L294.79,288.11L290.37,294.01L285.94,288.11Z"/><path d="M296.48,283.02L300.91,288.92L296.48,294.82L292.06,288.92Z"/><path d="M302.60,281.03L307.03,286.93L302.60,292.83L298.18,286.93Z"/><path d="M308.72,283.76L313.14,289.66L308.72,295.56L304.29,289.66Z"/><path d="M314.83,283.08L319.26,288.98L314.83,294.88L310.41,288.98Z"/><path d="M320.95,283.51L325.38,289.41L320.95,295.31L316.53,289.41Z"/><path d="M327.07,283.39L331.49,289.29L327.07,295.19L322.64,289.29Z"/><path d="M333.18,281.72L337.61,287.62L333.18,293.52L328.76,287.62Z"/><path d="M339.30,281.03L343.73,286.93L339.30,292.83L334.88,286.93Z"/><path d="M345.42,280.10L349.84,286.00L345.42,291.90L340.99,286.00Z"/><path d="M351.53,281.03L355.96,286.93L351.53,292.83L347.11,286.93Z"/><path d="M357.65,281.03L362.07,286.93L357.65,292.83L353.22,286.93Z"/><path d="M363.77,279.48L368.19,285.38L363.77,291.28L359.34,285.38Z"/><path d="M369.88,279.48L374.31,285.38L369.88,291.28L365.46,285.38Z"/><path d="M376.00,281.28L380.43,287.18L376.00,293.08L371.57,287.18Z"/><path d="M382.12,281.03L386.54,286.93L382.12,292.83L377.69,286.93Z"/><path d="M388.23,281.65L392.66,287.55L388.23,293.45L383.81,287.55Z"/><path d="M394.35,279.05L398.78,284.95L394.35,290.85L389.93,284.95Z"/><path d="M400.47,280.97L404.89,286.87L400.47,292.77L396.04,286.87Z"/><path d="M406.58,282.34L411.01,288.24L406.58,294.14L402.16,288.24Z"/><path d="M412.70,281.90L417.13,287.80L412.70,293.70L408.28,287.80Z"/><path d="M418.82,282.09L423.24,287.99L418.82,293.89L414.39,287.99Z"/><path d="M424.93,282.77L429.36,288.67L424.93,294.57L420.51,288.67Z"/><path d="M431.05,282.40L435.48,288.30L431.05,294.20L426.63,288.30Z"/><path d="M437.17,279.05L441.59,284.95L437.17,290.85L432.74,284.95Z"/><path d="M443.28,280.29L447.71,286.19L443.28,292.09L438.86,286.19Z"/><path d="M449.40,280.79L453.82,286.69L449.40,292.59L444.97,286.69Z"/><path d="M455.52,280.72L459.94,286.62L455.52,292.52L451.09,286.62Z"/><path d="M461.63,278.99L466.06,284.89L461.63,290.79L457.21,284.89Z"/><path d="M467.75,278.93L472.18,284.83L467.75,290.73L463.32,284.83Z"/><path d="M473.87,279.67L478.29,285.57L473.87,291.47L469.44,285.57Z"/><path d="M479.98,281.16L484.41,287.06L479.98,292.96L475.56,287.06Z"/><path d="M486.10,280.91L490.53,286.81L486.10,292.71L481.68,286.81Z"/><path d="M492.22,279.86L496.64,285.76L492.22,291.66L487.79,285.76Z"/><path d="M498.33,281.90L502.76,287.80L498.33,293.70L493.91,287.80Z"/><path d="M504.45,278.06L508.88,283.96L504.45,289.86L500.03,283.96Z"/><path d="M510.57,279.48L514.99,285.38L510.57,291.28L506.14,285.38Z"/><path d="M516.68,280.79L521.11,286.69L516.68,292.59L512.26,286.69Z"/><path d="M522.80,281.65L527.23,287.55L522.80,293.45L518.38,287.55Z"/><path d="M528.92,279.48L533.34,285.38L528.92,291.28L524.49,285.38Z"/><path d="M535.03,280.04L539.46,285.94L535.03,291.84L530.61,285.94Z"/><path d="M541.15,280.29L545.57,286.19L541.15,292.09L536.73,286.19Z"/><path d="M547.27,280.48L551.69,286.38L547.27,292.28L542.84,286.38Z"/><path d="M553.38,280.23L557.81,286.13L553.38,292.03L548.96,286.13Z"/><path d="M559.50,280.48L563.92,286.38L559.50,292.28L555.08,286.38Z"/><path d="M565.62,280.48L570.04,286.38L565.62,292.28L561.19,286.38Z"/><path d="M571.73,279.67L576.16,285.57L571.73,291.47L567.31,285.57Z"/><path d="M577.85,279.67L582.27,285.57L577.85,291.47L573.43,285.57Z"/><path d="M583.97,280.48L588.39,286.38L583.97,292.28L579.54,286.38Z"/><path d="M590.08,279.30L594.51,285.20L590.08,291.10L585.66,285.20Z"/><path d="M596.20,280.10L600.62,286.00L596.20,291.90L591.78,286.00Z"/><path d="M602.32,278.06L606.74,283.96L602.32,289.86L597.89,283.96Z"/><path d="M608.43,281.78L612.86,287.68L608.43,293.58L604.01,287.68Z"/><path d="M614.55,278.86L618.98,284.76L614.55,290.66L610.13,284.76Z"/><path d="M620.67,278.06L625.09,283.96L620.67,289.86L616.24,283.96Z"/><path d="M626.78,276.88L631.21,282.78L626.78,288.68L622.36,282.78Z"/><path d="M632.90,279.11L637.33,285.01L632.90,290.91L628.48,285.01Z"/><path d="M639.02,278.80L643.44,284.70L639.02,290.60L634.59,284.70Z"/><path d="M645.13,276.88L649.56,282.78L645.13,288.68L640.71,282.78Z"/><path d="M651.25,278.31L655.68,284.21L651.25,290.11L646.83,284.21Z"/><path d="M657.37,276.57L661.79,282.47L657.37,288.37L652.94,282.47Z"/><path d="M663.48,277.87L667.91,283.77L663.48,289.67L659.06,283.77Z"/><path d="M669.60,276.88L674.02,282.78L669.60,288.68L665.18,282.78Z"/><path d="M675.72,277.87L680.14,283.77L675.72,289.67L671.29,283.77Z"/><path d="M681.83,279.11L686.26,285.01L681.83,290.91L677.41,285.01Z"/><path d="M687.95,275.76L692.38,281.66L687.95,287.56L683.53,281.66Z"/><path d="M694.07,277.87L698.49,283.77L694.07,289.67L689.64,283.77Z"/><path d="M700.18,278.37L704.61,284.27L700.18,290.17L695.76,284.27Z"/><path d="M706.30,279.67L710.73,285.57L706.30,291.47L701.88,285.57Z"/><path d="M712.42,278.37L716.84,284.27L712.42,290.17L707.99,284.27Z"/><path d="M718.53,277.87L722.96,283.77L718.53,289.67L714.11,283.77Z"/><path d="M724.65,275.76L729.08,281.66L724.65,287.56L720.23,281.66Z"/><path d="M730.77,279.11L735.19,285.01L730.77,290.91L726.34,285.01Z"/><path d="M736.88,277.87L741.31,283.77L736.88,289.67L732.46,283.77Z"/><path d="M743.00,276.88L747.43,282.78L743.00,288.68L738.58,282.78Z"/><path d="M749.12,277.87L753.54,283.77L749.12,289.67L744.69,283.77Z"/><path d="M755.23,276.57L759.66,282.47L755.23,288.37L750.81,282.47Z"/><path d="M761.35,278.31L765.77,284.21L761.35,290.11L756.93,284.21Z"/><path d="M767.47,276.88L771.89,282.78L767.47,288.68L763.04,282.78Z"/><path d="M773.58,278.80L778.01,284.70L773.58,290.60L769.16,284.70Z"/><path d="M779.70,279.11L784.12,285.01L779.70,290.91L775.28,285.01Z"/><path d="M785.82,276.88L790.24,282.78L785.82,288.68L781.39,282.78Z"/><path d="M791.93,278.06L796.36,283.96L791.93,289.86L787.51,283.96Z"/><path d="M798.05,278.86L802.48,284.76L798.05,290.66L793.63,284.76Z"/><path d="M804.17,281.78L808.59,287.68L804.17,293.58L799.74,287.68Z"/><path d="M810.28,278.06L814.71,283.96L810.28,289.86L805.86,283.96Z"/><path d="M816.40,280.10L820.83,286.00L816.40,291.90L811.98,286.00Z"/><path d="M822.52,279.30L826.94,285.20L822.52,291.10L818.09,285.20Z"/><path d="M828.63,280.48L833.06,286.38L828.63,292.28L824.21,286.38Z"/><path d="M834.75,279.67L839.18,285.57L834.75,291.47L830.33,285.57Z"/><path d="M840.87,279.67L845.29,285.57L840.87,291.47L836.44,285.57Z"/><path d="M846.98,280.48L851.41,286.38L846.98,292.28L842.56,286.38Z"/><path d="M853.10,280.48L857.52,286.38L853.10,292.28L848.68,286.38Z"/><path d="M859.22,280.23L863.64,286.13L859.22,292.03L854.79,286.13Z"/><path d="M865.33,280.48L869.76,286.38L865.33,292.28L860.91,286.38Z"/><path d="M871.45,280.29L875.88,286.19L871.45,292.09L867.03,286.19Z"/><path d="M877.57,280.04L881.99,285.94L877.57,291.84L873.14,285.94Z"/><path d="M883.68,279.48L888.11,285.38L883.68,291.28L879.26,285.38Z"/><path d="M889.80,281.65L894.23,287.55L889.80,293.45L885.38,287.55Z"/><path d="M895.92,280.79L900.34,286.69L895.92,292.59L891.49,286.69Z"/><path d="M902.03,279.48L906.46,285.38L902.03,291.28L897.61,285.38Z"/><path d="M908.15,278.06L912.58,283.96L908.15,289.86L903.73,283.96Z"/><path d="M914.27,281.90L918.69,287.80L914.27,293.70L909.84,287.80Z"/><path d="M920.38,279.86L924.81,285.76L920.38,291.66L915.96,285.76Z"/><path d="M926.50,280.91L930.93,286.81L926.50,292.71L922.08,286.81Z"/><path d="M932.62,281.16L937.04,287.06L932.62,292.96L928.19,287.06Z"/><path d="M938.73,279.67L943.16,285.57L938.73,291.47L934.31,285.57Z"/><path d="M944.85,278.93L949.28,284.83L944.85,290.73L940.43,284.83Z"/><path d="M950.97,278.99L955.39,284.89L950.97,290.79L946.54,284.89Z"/><path d="M957.08,280.72L961.51,286.62L957.08,292.52L952.66,286.62Z"/><path d="M963.20,280.79L967.62,286.69L963.20,292.59L958.78,286.69Z"/><path d="M969.32,280.29L973.74,286.19L969.32,292.09L964.89,286.19Z"/><path d="M975.43,279.05L979.86,284.95L975.43,290.85L971.01,284.95Z"/><path d="M981.55,282.40L985.98,288.30L981.55,294.20L977.13,288.30Z"/><path d="M987.67,282.77L992.09,288.67L987.67,294.57L983.24,288.67Z"/><path d="M993.78,282.09L998.21,287.99L993.78,293.89L989.36,287.99Z"/><path d="M999.90,281.90L1004.33,287.80L999.90,293.70L995.48,287.80Z"/><path d="M1006.02,282.34L1010.44,288.24L1006.02,294.14L1001.59,288.24Z"/><path d="M1012.13,280.97L1016.56,286.87L1012.13,292.77L1007.71,286.87Z"/><path d="M1018.25,279.05L1022.68,284.95L1018.25,290.85L1013.83,284.95Z"/><path d="M1024.37,281.65L1028.79,287.55L1024.37,293.45L1019.94,287.55Z"/><path d="M1030.48,281.03L1034.91,286.93L1030.48,292.83L1026.06,286.93Z"/><path d="M1036.60,281.28L1041.03,287.18L1036.60,293.08L1032.18,287.18Z"/><path d="M1042.72,279.48L1047.14,285.38L1042.72,291.28L1038.29,285.38Z"/><path d="M1048.83,279.48L1053.26,285.38L1048.83,291.28L1044.41,285.38Z"/><path d="M1054.95,281.03L1059.38,286.93L1054.95,292.83L1050.53,286.93Z"/><path d="M1061.07,281.03L1065.49,286.93L1061.07,292.83L1056.64,286.93Z"/><path d="M1067.18,280.10L1071.61,286.00L1067.18,291.90L1062.76,286.00Z"/><path d="M1073.30,281.03L1077.72,286.93L1073.30,292.83L1068.88,286.93Z"/><path d="M1079.42,281.72L1083.84,287.62L1079.42,293.52L1074.99,287.62Z"/><path d="M1085.53,283.39L1089.96,289.29L1085.53,295.19L1081.11,289.29Z"/><path d="M1091.65,283.51L1096.08,289.41L1091.65,295.31L1087.23,289.41Z"/><path d="M1097.77,283.08L1102.19,288.98L1097.77,294.88L1093.34,288.98Z"/><path d="M1103.88,283.76L1108.31,289.66L1103.88,295.56L1099.46,289.66Z"/><path d="M1110.00,281.03L1114.42,286.93L1110.00,292.83L1105.58,286.93Z"/><path d="M1116.12,283.02L1120.54,288.92L1116.12,294.82L1111.69,288.92Z"/><path d="M1122.23,282.21L1126.66,288.11L1122.23,294.01L1117.81,288.11Z"/><path d="M1128.35,283.02L1132.78,288.92L1128.35,294.82L1123.93,288.92Z"/><path d="M1134.47,282.09L1138.89,287.99L1134.47,293.89L1130.04,287.99Z"/><path d="M1140.58,283.08L1145.01,288.98L1140.58,294.88L1136.16,288.98Z"/><path d="M1146.70,285.37L1151.12,291.27L1146.70,297.17L1142.28,291.27Z"/><path d="M1152.82,283.45L1157.24,289.35L1152.82,295.25L1148.39,289.35Z"/><path d="M1158.93,283.51L1163.36,289.41L1158.93,295.31L1154.51,289.41Z"/><path d="M1165.05,283.64L1169.47,289.54L1165.05,295.44L1160.62,289.54Z"/><path d="M1171.17,283.02L1175.59,288.92L1171.17,294.82L1166.74,288.92Z"/><path d="M1177.28,281.90L1181.71,287.80L1177.28,293.70L1172.86,287.80Z"/><path d="M1183.40,282.03L1187.83,287.93L1183.40,293.83L1178.98,287.93Z"/><path d="M1189.52,280.54L1193.94,286.44L1189.52,292.34L1185.09,286.44Z"/><path d="M1195.63,279.61L1200.06,285.51L1195.63,291.41L1191.21,285.51Z"/><path d="M1201.75,282.52L1206.17,288.42L1201.75,294.32L1197.33,288.42Z"/><path d="M1207.87,286.98L1212.29,292.88L1207.87,298.78L1203.44,292.88Z"/><path d="M1213.98,289.71L1218.41,295.61L1213.98,301.51L1209.56,295.61Z"/><path d="M1220.10,294.67L1224.52,300.57L1220.10,306.47L1215.67,300.57Z"/><path d="M1226.22,297.77L1230.64,303.67L1226.22,309.57L1221.79,303.67Z"/><path d="M1232.33,289.22L1236.76,295.12L1232.33,301.02L1227.91,295.12Z"/><path d="M1238.45,279.30L1242.88,285.20L1238.45,291.10L1234.03,285.20Z"/><path d="M1244.57,259.46L1248.99,265.36L1244.57,271.26L1240.14,265.36Z"/><path d="M1250.68,278.93L1255.11,284.83L1250.68,290.73L1246.26,284.83Z"/><path d="M1256.80,278.93L1261.22,284.83L1256.80,290.73L1252.38,284.83Z"/><path d="M1262.92,278.93L1267.34,284.83L1262.92,290.73L1258.49,284.83Z"/><path d="M1269.03,278.93L1273.46,284.83L1269.03,290.73L1264.61,284.83Z"/><path d="M1275.15,202.43L1279.58,208.33L1275.15,214.23L1270.73,208.33Z"/><path d="M1281.27,202.43L1285.69,208.33L1281.27,214.23L1276.84,208.33Z"/><path d="M1287.38,47.46L1291.81,53.36L1287.38,59.26L1282.96,53.36Z"/><path d="M1293.50,47.46L1297.92,53.36L1293.50,59.26L1289.08,53.36Z"/></g>
</svg>
<rect x="1080.9" y="10.7" width="188.40" height="231.60" fill="#fff" stroke="#000" stroke-width="1.3"/>
<line x1="1090.3" y1="34.80" x2="1140.8" y2="34.80" stroke="#3b499e" stroke-width="1.3"/>
<g fill="#3b499e" stroke="#3b499e" stroke-width="1.3"><circle cx="1115.60" cy="34.80" r="5.9"/></g>
<text transform="matrix(1.2423,0,0,1.0288,1155.65,42.91)" font-size="30" fill="#000"><tspan font-family='"Liberation Serif", serif' font-style="italic" class="ns">B</tspan></text><text transform="matrix(1.4255,0,0,0.8933,1185.97,44.25)" font-size="30" fill="#000"><tspan font-family='"Liberation Serif", serif' font-style="normal">=</tspan></text><text transform="matrix(1.0464,0,0,0.9968,1216.84,43.00)" font-size="30" fill="#000"><tspan font-family='"Liberation Serif", serif' font-style="normal">12</tspan></text>
<line x1="1090.3" y1="71.20" x2="1140.8" y2="71.20" stroke="#d7191c" stroke-width="1.3"/>
<g fill="#b0202a" stroke="#d7191c" stroke-width="1.3"><rect x="1109.70" y="65.30" width="11.8" height="11.8"/></g>
<text transform="matrix(1.2423,0,0,1.0288,1155.65,79.31)" font-size="30" fill="#000"><tspan font-family='"Liberation Serif", serif' font-style="italic" class="ns">B</tspan></text><text transform="matrix(1.4255,0,0,0.8933,1185.97,80.65)" font-size="30" fill="#000"><tspan font-family='"Liberation Serif", serif' font-style="normal">=</tspan></text><text transform="matrix(0.9535,0,0,0.9968,1218.34,79.40)" font-size="30" fill="#000"><tspan font-family='"Liberation Serif", serif' font-style="normal">24</tspan></text>
<line x1="1090.3" y1="107.40" x2="1140.8" y2="107.40" stroke="#e6862c" stroke-width="1.3"/>
<g fill="none" stroke="#e6862c" stroke-width="1.3"><path d="M1115.60,101.50L1120.71,110.35L1110.49,110.35Z"/></g>
<text transform="matrix(1.2423,0,0,1.0288,1155.65,115.51)" font-size="30" fill="#000"><tspan font-family='"Liberation Serif", serif' font-style="italic" class="ns">B</tspan></text><text transform="matrix(1.4255,0,0,0.8933,1185.97,116.85)" font-size="30" fill="#000"><tspan font-family='"Liberation Serif", serif' font-style="normal">=</tspan></text><text transform="matrix(0.9515,0,0,0.9781,1219.04,115.31)" font-size="30" fill="#000"><tspan font-family='"Liberation Serif", serif' font-style="normal">48</tspan></text>
<line x1="1090.3" y1="143.80" x2="1140.8" y2="143.80" stroke="#000" stroke-width="1.3"/>
<g fill="none" stroke="#000" stroke-width="1.3"><path d="M1115.60,143.80L1115.60,137.90M1115.60,143.80L1109.99,141.98M1115.60,143.80L1112.13,148.57M1115.60,143.80L1119.07,148.57M1115.60,143.80L1121.21,141.98"/></g>
<text transform="matrix(1.2423,0,0,1.0288,1155.65,151.91)" font-size="30" fill="#000"><tspan font-family='"Liberation Serif", serif' font-style="italic" class="ns">B</tspan></text><text transform="matrix(1.4255,0,0,0.8933,1185.97,153.25)" font-size="30" fill="#000"><tspan font-family='"Liberation Serif", serif' font-style="normal">=</tspan></text><text transform="matrix(0.9559,0,0,0.9823,1218.68,151.71)" font-size="30" fill="#000"><tspan font-family='"Liberation Serif", serif' font-style="normal">96</tspan></text>
<line x1="1090.3" y1="180.00" x2="1140.8" y2="180.00" stroke="#3b499e" stroke-width="1.3"/>
<g fill="#3b499e" stroke="#3b499e" stroke-width="1.3"><path d="M1115.60,174.10L1120.02,180.00L1115.60,185.90L1111.17,180.00Z"/></g>
<text transform="matrix(1.2423,0,0,1.0288,1147.95,188.11)" font-size="30" fill="#000"><tspan font-family='"Liberation Serif", serif' font-style="italic" class="ns">B</tspan></text><text transform="matrix(1.4255,0,0,0.8933,1178.27,189.45)" font-size="30" fill="#000"><tspan font-family='"Liberation Serif", serif' font-style="normal">=</tspan></text><text transform="matrix(1.0244,0,0,0.9823,1209.60,187.91)" font-size="30" fill="#000"><tspan font-family='"Liberation Serif", serif' font-style="normal">192</tspan></text>
<line x1="1090.3" y1="217.30" x2="1140.8" y2="217.30" stroke="#000" stroke-width="1.3" stroke-dasharray="9.4 8.57"/>
<text transform="matrix(1.0261,0,0,1.0483,1178.11,226.89)" font-size="30" fill="#000"><tspan font-family='"Liberation Serif", serif' font-style="normal">5</tspan></text><text transform="matrix(1.4157,0,0,1.4949,1195.50,233.66)" font-size="30" fill="#000"><tspan font-family='"Liberation Serif", serif' font-style="normal">/</tspan></text><text transform="matrix(1.0303,0,0,1.0324,1208.62,226.90)" font-size="30" fill="#000"><tspan font-family='"Liberation Serif", serif' font-style="normal">8</tspan></text>
</svg></body></html>
